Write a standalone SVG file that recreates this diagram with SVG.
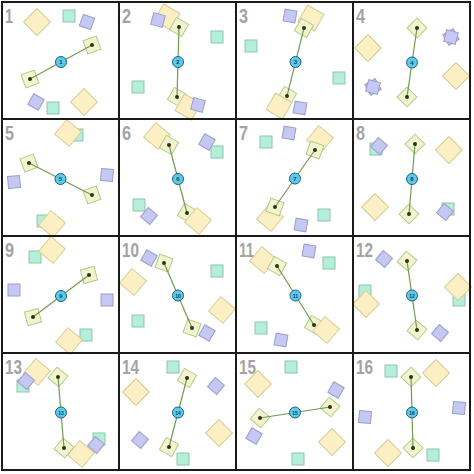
<svg xmlns="http://www.w3.org/2000/svg" xmlns:xlink="http://www.w3.org/1999/xlink" width="474" height="474" viewBox="0 0 474 474">
<style>
.y{fill:#fbefc3;stroke:#d6cc9a;stroke-width:1}
.t{fill:#b4f0d9;stroke:#8fc4ae;stroke-width:1}
.p{fill:#c5c8f3;stroke:#9c9ec9;stroke-width:1}
.n{fill:#eff6cd;stroke:#b9c58c;stroke-width:1}
.c line{stroke:#6e9c50;stroke-width:1.2}
.d{fill:#3b2b1b}
.h circle{fill:#5ccbeb;stroke:#1f5f7f;stroke-width:1}
.h text{font-family:"Liberation Sans",Arial,sans-serif;font-size:6px;font-weight:bold;fill:#12405a;text-anchor:middle}
.lb{font-family:"Liberation Sans",Arial,sans-serif;font-weight:bold;font-size:21px;fill:#a3a3a3}
.grid{fill:none;stroke:#1a1a1a;stroke-width:2}
</style>
<defs>
<rect id="Y" x="-9.5" y="-9.5" width="19" height="19"/>
<rect id="S" x="-6" y="-6" width="12" height="12"/>
<rect id="N" x="-7" y="-7" width="14" height="14"/>
</defs>
<rect width="474" height="474" fill="#ffffff"/>

<g id="panel-1">
<use href="#S" class="t" transform="translate(69,16)"/>
<use href="#S" class="t" transform="translate(53,108)"/>
<use href="#Y" class="y" transform="translate(37,22) rotate(45)"/>
<use href="#Y" class="y" transform="translate(84,102) rotate(45)"/>
<use href="#S" class="p" transform="translate(87,22) rotate(20)"/>
<use href="#S" class="p" transform="translate(36,102) rotate(30)"/>
<use href="#N" class="n" transform="translate(92,45) rotate(-20)"/>
<use href="#N" class="n" transform="translate(30,79) rotate(-20)"/>
</g>
<g id="panel-2">
<use href="#S" class="t" transform="translate(217,37)"/>
<use href="#S" class="t" transform="translate(138,87)"/>
<use href="#Y" class="y" transform="translate(167,17) rotate(30)"/>
<use href="#N" class="n" transform="translate(177,97) rotate(30)"/>
<use href="#Y" class="y" transform="translate(188,107) rotate(30)"/>
<use href="#S" class="p" transform="translate(158,20) rotate(15)"/>
<use href="#S" class="p" transform="translate(198,105) rotate(15)"/>
<use href="#N" class="n" transform="translate(179,27) rotate(30)"/>
</g>
<g id="panel-3">
<use href="#S" class="t" transform="translate(251,46)"/>
<use href="#S" class="t" transform="translate(339,78)"/>
<use href="#Y" class="y" transform="translate(311,18) rotate(30)"/>
<use href="#N" class="n" transform="translate(287,96) rotate(30)"/>
<use href="#Y" class="y" transform="translate(279,106) rotate(30)"/>
<use href="#S" class="p" transform="translate(290,16) rotate(10)"/>
<use href="#S" class="p" transform="translate(300,108) rotate(10)"/>
<use href="#N" class="n" transform="translate(304,28) rotate(30)"/>
</g>
<g id="panel-4">
<use href="#Y" class="y" transform="translate(368,48) rotate(45)"/>
<use href="#Y" class="y" transform="translate(456,76) rotate(45)"/>
<use href="#S" class="p" transform="translate(451,37) rotate(60)"/>
<use href="#S" class="p" transform="translate(451,37) rotate(15)"/>
<use href="#S" class="p" transform="translate(373,87) rotate(60)"/>
<use href="#S" class="p" transform="translate(373,87) rotate(15)"/>
<use href="#N" class="n" transform="translate(417,28) rotate(45)"/>
<use href="#N" class="n" transform="translate(407,97) rotate(45)"/>
</g>
<g id="panel-5">
<use href="#S" class="t" transform="translate(77,135)"/>
<use href="#S" class="t" transform="translate(43,221)"/>
<use href="#Y" class="y" transform="translate(68,133) rotate(40)"/>
<use href="#Y" class="y" transform="translate(52,224) rotate(40)"/>
<use href="#S" class="p" transform="translate(14,182) rotate(-5)"/>
<use href="#S" class="p" transform="translate(107,175) rotate(5)"/>
<use href="#N" class="n" transform="translate(29,163) rotate(-20)"/>
<use href="#N" class="n" transform="translate(92,195) rotate(-20)"/>
</g>
<g id="panel-6">
<use href="#S" class="t" transform="translate(217,152)"/>
<use href="#S" class="t" transform="translate(139,205)"/>
<use href="#Y" class="y" transform="translate(157,136) rotate(40)"/>
<use href="#N" class="n" transform="translate(187,213) rotate(30)"/>
<use href="#Y" class="y" transform="translate(198,221) rotate(40)"/>
<use href="#S" class="p" transform="translate(207,142) rotate(30)"/>
<use href="#S" class="p" transform="translate(149,216) rotate(40)"/>
<use href="#N" class="n" transform="translate(169,145) rotate(30)"/>
</g>
<g id="panel-7">
<use href="#S" class="t" transform="translate(266,142)"/>
<use href="#S" class="t" transform="translate(324,215)"/>
<use href="#Y" class="y" transform="translate(320,139) rotate(40)"/>
<use href="#Y" class="y" transform="translate(270,218) rotate(40)"/>
<use href="#S" class="p" transform="translate(289,133) rotate(10)"/>
<use href="#S" class="p" transform="translate(301,225) rotate(10)"/>
<use href="#N" class="n" transform="translate(315,150) rotate(20)"/>
<use href="#N" class="n" transform="translate(275,207) rotate(20)"/>
</g>
<g id="panel-8">
<use href="#S" class="t" transform="translate(376,149)"/>
<use href="#S" class="t" transform="translate(448,209)"/>
<use href="#Y" class="y" transform="translate(449,150) rotate(45)"/>
<use href="#Y" class="y" transform="translate(375,207) rotate(45)"/>
<use href="#S" class="p" transform="translate(379,146) rotate(40)"/>
<use href="#S" class="p" transform="translate(445,212) rotate(40)"/>
<use href="#N" class="n" transform="translate(415,144) rotate(45)"/>
<use href="#N" class="n" transform="translate(409,214) rotate(45)"/>
</g>
<g id="panel-9">
<use href="#S" class="t" transform="translate(35,257)"/>
<use href="#S" class="t" transform="translate(86,335)"/>
<use href="#Y" class="y" transform="translate(52,250) rotate(40)"/>
<use href="#Y" class="y" transform="translate(69,341) rotate(40)"/>
<use href="#S" class="p" transform="translate(14,290)"/>
<use href="#S" class="p" transform="translate(107,300)"/>
<use href="#N" class="n" transform="translate(89,275) rotate(-15)"/>
<use href="#N" class="n" transform="translate(33,317) rotate(-15)"/>
</g>
<g id="panel-10">
<use href="#S" class="t" transform="translate(217,271)"/>
<use href="#S" class="t" transform="translate(138,321)"/>
<use href="#Y" class="y" transform="translate(133,282) rotate(40)"/>
<use href="#Y" class="y" transform="translate(222,310) rotate(40)"/>
<use href="#S" class="p" transform="translate(149,258) rotate(30)"/>
<use href="#S" class="p" transform="translate(207,333) rotate(30)"/>
<use href="#N" class="n" transform="translate(164,263) rotate(20)"/>
<use href="#N" class="n" transform="translate(192,328) rotate(20)"/>
</g>
<g id="panel-11">
<use href="#S" class="t" transform="translate(329,263)"/>
<use href="#S" class="t" transform="translate(261,328)"/>
<use href="#Y" class="y" transform="translate(263,260) rotate(40)"/>
<use href="#N" class="n" transform="translate(314,325) rotate(30)"/>
<use href="#Y" class="y" transform="translate(326,330) rotate(40)"/>
<use href="#S" class="p" transform="translate(309,251) rotate(10)"/>
<use href="#S" class="p" transform="translate(281,340) rotate(10)"/>
<use href="#N" class="n" transform="translate(277,266) rotate(30)"/>
</g>
<g id="panel-12">
<use href="#S" class="t" transform="translate(365,291)"/>
<use href="#S" class="t" transform="translate(459,300)"/>
<use href="#Y" class="y" transform="translate(366,304) rotate(45)"/>
<use href="#Y" class="y" transform="translate(458,287) rotate(45)"/>
<use href="#S" class="p" transform="translate(384,259) rotate(40)"/>
<use href="#S" class="p" transform="translate(440,333) rotate(40)"/>
<use href="#N" class="n" transform="translate(407,261) rotate(40)"/>
<use href="#N" class="n" transform="translate(417,330) rotate(40)"/>
</g>
<g id="panel-13">
<use href="#S" class="t" transform="translate(23,386)"/>
<use href="#S" class="t" transform="translate(99,439)"/>
<use href="#Y" class="y" transform="translate(37,372) rotate(40)"/>
<use href="#Y" class="y" transform="translate(81,454) rotate(40)"/>
<use href="#S" class="p" transform="translate(26,381) rotate(40)"/>
<use href="#S" class="p" transform="translate(96,445) rotate(40)"/>
<use href="#N" class="n" transform="translate(58,377) rotate(40)"/>
<use href="#N" class="n" transform="translate(64,448) rotate(40)"/>
</g>
<g id="panel-14">
<use href="#S" class="t" transform="translate(173,367)"/>
<use href="#S" class="t" transform="translate(183,459)"/>
<use href="#Y" class="y" transform="translate(136,392) rotate(45)"/>
<use href="#Y" class="y" transform="translate(219,433) rotate(45)"/>
<use href="#S" class="p" transform="translate(216,386) rotate(40)"/>
<use href="#S" class="p" transform="translate(140,440) rotate(40)"/>
<use href="#N" class="n" transform="translate(187,378) rotate(30)"/>
<use href="#N" class="n" transform="translate(169,447) rotate(30)"/>
</g>
<g id="panel-15">
<use href="#S" class="t" transform="translate(291,367)"/>
<use href="#S" class="t" transform="translate(298,459)"/>
<use href="#Y" class="y" transform="translate(258,384) rotate(45)"/>
<use href="#Y" class="y" transform="translate(332,442) rotate(45)"/>
<use href="#S" class="p" transform="translate(336,390) rotate(30)"/>
<use href="#S" class="p" transform="translate(254,436) rotate(30)"/>
<use href="#N" class="n" transform="translate(330,407) rotate(40)"/>
<use href="#N" class="n" transform="translate(260,418) rotate(40)"/>
</g>
<g id="panel-16">
<use href="#S" class="t" transform="translate(391,371)"/>
<use href="#S" class="t" transform="translate(433,455)"/>
<use href="#Y" class="y" transform="translate(436,373) rotate(45)"/>
<use href="#Y" class="y" transform="translate(388,453) rotate(45)"/>
<use href="#S" class="p" transform="translate(365,417) rotate(5)"/>
<use href="#S" class="p" transform="translate(459,408) rotate(5)"/>
<use href="#N" class="n" transform="translate(411,377) rotate(45)"/>
<use href="#N" class="n" transform="translate(413,448) rotate(45)"/>
</g>

<g id="connectors" class="c">
<line x1="92" y1="45" x2="30" y2="79"/>
<line x1="179" y1="27" x2="177" y2="97"/>
<line x1="304" y1="28" x2="287" y2="96"/>
<line x1="417" y1="28" x2="407" y2="97"/>
<line x1="29" y1="163" x2="92" y2="195"/>
<line x1="169" y1="145" x2="187" y2="213"/>
<line x1="315" y1="150" x2="275" y2="207"/>
<line x1="415" y1="144" x2="409" y2="214"/>
<line x1="89" y1="275" x2="33" y2="317"/>
<line x1="164" y1="263" x2="192" y2="328"/>
<line x1="277" y1="266" x2="314" y2="325"/>
<line x1="407" y1="261" x2="417" y2="330"/>
<line x1="58" y1="377" x2="64" y2="448"/>
<line x1="187" y1="378" x2="169" y2="447"/>
<line x1="330" y1="407" x2="260" y2="418"/>
<line x1="411" y1="377" x2="413" y2="448"/>
</g>

<g id="dots" class="d">
<circle cx="92" cy="45" r="2"/><circle cx="30" cy="79" r="2"/>
<circle cx="179" cy="27" r="2"/><circle cx="177" cy="97" r="2"/>
<circle cx="304" cy="28" r="2"/><circle cx="287" cy="96" r="2"/>
<circle cx="417" cy="28" r="2"/><circle cx="407" cy="97" r="2"/>
<circle cx="29" cy="163" r="2"/><circle cx="92" cy="195" r="2"/>
<circle cx="169" cy="145" r="2"/><circle cx="187" cy="213" r="2"/>
<circle cx="315" cy="150" r="2"/><circle cx="275" cy="207" r="2"/>
<circle cx="415" cy="144" r="2"/><circle cx="409" cy="214" r="2"/>
<circle cx="89" cy="275" r="2"/><circle cx="33" cy="317" r="2"/>
<circle cx="164" cy="263" r="2"/><circle cx="192" cy="328" r="2"/>
<circle cx="277" cy="266" r="2"/><circle cx="314" cy="325" r="2"/>
<circle cx="407" cy="261" r="2"/><circle cx="417" cy="330" r="2"/>
<circle cx="58" cy="377" r="2"/><circle cx="64" cy="448" r="2"/>
<circle cx="187" cy="378" r="2"/><circle cx="169" cy="447" r="2"/>
<circle cx="330" cy="407" r="2"/><circle cx="260" cy="418" r="2"/>
<circle cx="411" cy="377" r="2"/><circle cx="413" cy="448" r="2"/>
</g>

<g id="hub-1" class="h"><circle cx="61" cy="62" r="5.5"/><text x="61" y="64.2">1</text></g>
<g id="hub-2" class="h"><circle cx="178" cy="62" r="5.5"/><text x="178" y="64.2">2</text></g>
<g id="hub-3" class="h"><circle cx="295.5" cy="62" r="5.5"/><text x="295.5" y="64.2">3</text></g>
<g id="hub-4" class="h"><circle cx="412" cy="62.5" r="5.5"/><text x="412" y="64.7">4</text></g>
<g id="hub-5" class="h"><circle cx="60.5" cy="179" r="5.5"/><text x="60.5" y="181.2">5</text></g>
<g id="hub-6" class="h"><circle cx="178" cy="179" r="5.5"/><text x="178" y="181.2">6</text></g>
<g id="hub-7" class="h"><circle cx="295" cy="178.5" r="5.5"/><text x="295" y="180.7">7</text></g>
<g id="hub-8" class="h"><circle cx="412" cy="179" r="5.5"/><text x="412" y="181.2">8</text></g>
<g id="hub-9" class="h"><circle cx="61" cy="296" r="5.5"/><text x="61" y="298.2">9</text></g>
<g id="hub-10" class="h"><circle cx="178" cy="295.5" r="5.5"/><text x="178" y="297.5" style="font-size:5px">10</text></g>
<g id="hub-11" class="h"><circle cx="295.5" cy="295.5" r="5.5"/><text x="295.5" y="297.5" style="font-size:5px">11</text></g>
<g id="hub-12" class="h"><circle cx="412" cy="295.5" r="5.5"/><text x="412" y="297.5" style="font-size:5px">12</text></g>
<g id="hub-13" class="h"><circle cx="61" cy="412.5" r="5.5"/><text x="61" y="414.5" style="font-size:5px">13</text></g>
<g id="hub-14" class="h"><circle cx="178" cy="412.5" r="5.5"/><text x="178" y="414.5" style="font-size:5px">14</text></g>
<g id="hub-15" class="h"><circle cx="295" cy="412.5" r="5.5"/><text x="295" y="414.5" style="font-size:5px">15</text></g>
<g id="hub-16" class="h"><circle cx="412" cy="412.5" r="5.5"/><text x="412" y="414.5" style="font-size:5px">16</text></g>

<g id="grid" class="grid">
<rect x="2" y="2" width="468" height="468"/>
<line x1="119" y1="2" x2="119" y2="470"/>
<line x1="236" y1="2" x2="236" y2="470"/>
<line x1="353" y1="2" x2="353" y2="470"/>
<line x1="2" y1="119" x2="470" y2="119"/>
<line x1="2" y1="236" x2="470" y2="236"/>
<line x1="2" y1="353" x2="470" y2="353"/>
</g>

<g id="labels" class="lb">
<text x="5" y="23" textLength="8" lengthAdjust="spacingAndGlyphs">1</text>
<text x="122" y="23" textLength="9" lengthAdjust="spacingAndGlyphs">2</text>
<text x="239" y="23" textLength="9" lengthAdjust="spacingAndGlyphs">3</text>
<text x="356" y="23" textLength="9" lengthAdjust="spacingAndGlyphs">4</text>
<text x="5" y="140" textLength="9" lengthAdjust="spacingAndGlyphs">5</text>
<text x="122" y="140" textLength="9" lengthAdjust="spacingAndGlyphs">6</text>
<text x="239" y="140" textLength="9" lengthAdjust="spacingAndGlyphs">7</text>
<text x="356" y="140" textLength="9" lengthAdjust="spacingAndGlyphs">8</text>
<text x="5" y="257" textLength="9" lengthAdjust="spacingAndGlyphs">9</text>
<text x="122" y="257" textLength="17" lengthAdjust="spacingAndGlyphs">10</text>
<text x="239" y="257" textLength="15" lengthAdjust="spacingAndGlyphs">11</text>
<text x="356" y="257" textLength="17" lengthAdjust="spacingAndGlyphs">12</text>
<text x="5" y="374" textLength="17" lengthAdjust="spacingAndGlyphs">13</text>
<text x="122" y="374" textLength="17" lengthAdjust="spacingAndGlyphs">14</text>
<text x="239" y="374" textLength="17" lengthAdjust="spacingAndGlyphs">15</text>
<text x="356" y="374" textLength="17" lengthAdjust="spacingAndGlyphs">16</text>
</g>
</svg>
